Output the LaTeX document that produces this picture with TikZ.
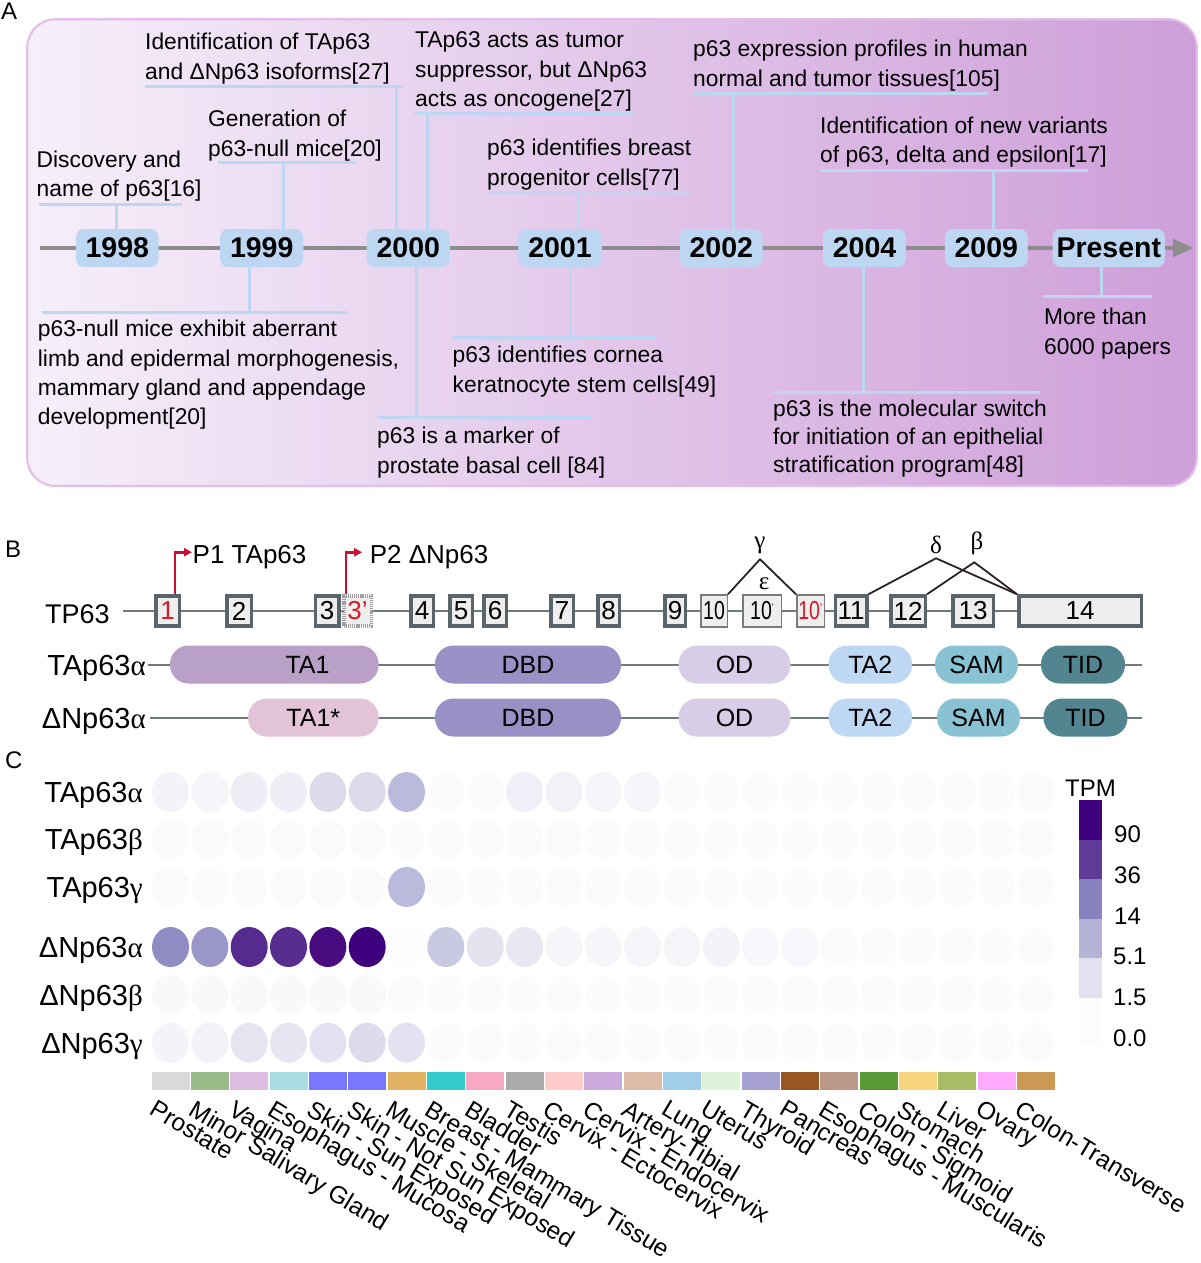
\documentclass[tikz,border=0pt]{standalone}
\usepackage{fontspec}
\setmainfont{Liberation Sans}
\newfontfamily\grk{Liberation Serif}
\usetikzlibrary{arrows.meta,shapes.geometric}
\definecolor{yearblue}{HTML}{BDD7F2}
\definecolor{bgL}{HTML}{F6EFFA}
\definecolor{bgR}{HTML}{CE9ED9}
\definecolor{bgborder}{HTML}{E2BEE8}
\definecolor{tlgray}{HTML}{8C8C8C}
\definecolor{exgray}{HTML}{5A656B}
\definecolor{exfill}{HTML}{EEEEEE}
\definecolor{thingray}{HTML}{7A7A7A}
\definecolor{bbgray}{HTML}{6F7A80}
\definecolor{promred}{HTML}{CC1130}
\definecolor{numred}{HTML}{D7182A}
\definecolor{splice}{HTML}{2B2222}
\definecolor{cTA}{HTML}{B9A0C7}
\definecolor{cTAs}{HTML}{E3C3D7}
\definecolor{cDBD}{HTML}{9891C6}
\definecolor{cOD}{HTML}{D7CDE6}
\definecolor{cTAtwo}{HTML}{BED8F3}
\definecolor{cSAM}{HTML}{89C3D3}
\definecolor{cTID}{HTML}{528590}
\newcommand{\dotrow}[3]{%
  \foreach \c [count=\i] in {#3} {%
    \definecolor{dc}{HTML}{\c}%
    \node[dotnode, fill=dc] (#1\i) at ({170.5+39.34*(\i-1)}, #2) {};
  }}
\begin{document}
\begin{tikzpicture}[x=1pt,y=-1pt,
  every node/.style={inner sep=0pt},
  txt/.style={anchor=north west, align=left, font=\fontsize{22.8}{29.3}\selectfont},
  yearbox/.style={fill=yearblue, rounded corners=8pt, minimum height=38pt, font=\fontsize{28.5}{30}\selectfont\bfseries},
  conn/.style={draw=yearblue, line width=3pt},
  tl/.style={draw=tlgray, line width=4.3pt, -{Triangle[length=21pt,width=17pt]}},
  exon/.style={draw=exgray, line width=3.5pt, fill=exfill, minimum height=30pt, font=\fontsize{26}{26}\selectfont},
  thinexon/.style={draw=thingray, line width=1.5pt, fill=exfill, minimum height=32pt, font=\fontsize{26}{26}\selectfont},
  dashexon/.style={draw=gray!75, line width=3.5pt, dash pattern=on 1.2pt off 0.9pt, fill=exfill, minimum height=30pt, font=\fontsize{26}{26}\selectfont},
  bb/.style={draw=bbgray, line width=2pt},
  prom/.style={draw=promred, line width=2.5pt, -{Triangle[length=8pt,width=8pt]}},
  spl/.style={draw=splice, line width=1.8pt},
  dom/.style={rounded corners=18.5pt, minimum height=38pt, font=\fontsize{25}{25}\selectfont},
  lab/.style={font=\fontsize{29}{29}\selectfont},
  grkl/.style={font=\fontsize{25}{25}\selectfont\grk},
  dotnode/.style={ellipse, minimum width=37pt, minimum height=40pt, draw=none},
  tissue/.style={anchor=north west, rotate=-31, font=\fontsize{24.5}{28}\selectfont},
  legl/.style={anchor=west, font=\fontsize{24}{24}\selectfont},
  panel/.style={anchor=base west, font=\fontsize{24}{24}\selectfont}
]
\useasboundingbox (0,0) rectangle (1200,1263);

% ================= Panel A =================
\node[panel] (pA) at (1,20) {A};
\shade[left color=bgL, right color=bgR, rounded corners=28pt] (27.3,19.3) rectangle (1196.7,486);
\draw[bgborder, line width=2.2pt, rounded corners=28pt] (27.3,19.3) rectangle (1196.7,486);

\coordinate (tlS) at (40,248);
\coordinate (tlE) at (1194,248);
\draw[tl] (tlS) -- (tlE);

\node[yearbox, minimum width=82.7pt] (y1998) at (117.3,248) {1998};
\node[yearbox, minimum width=83.3pt] (y1999) at (261.7,248) {1999};
\node[yearbox, minimum width=83.3pt] (y2000) at (408.3,248) {2000};
\node[yearbox, minimum width=83.5pt] (y2001) at (560,248) {2001};
\node[yearbox, minimum width=82.7pt] (y2002) at (721.3,248) {2002};
\node[yearbox, minimum width=83pt] (y2004) at (864.5,248) {2004};
\node[yearbox, minimum width=82.7pt] (y2009) at (986.3,248) {2009};
\node[yearbox, minimum width=112.3pt] (ypres) at (1108.8,248) {Present};

% connectors above
\coordinate (a1) at (116,204);    \draw[conn] (39,204) -- (182,204);       \draw[conn] (a1) -- (a1 |- y1998.north);
\coordinate (a2) at (283,162.3);  \draw[conn] (218,162.3) -- (357,162.3);  \draw[conn] (a2) -- (a2 |- y1999.north);
\coordinate (a3) at (396.7,86);   \draw[conn] (145,86) -- (403,86);        \draw[conn] (a3) -- (a3 |- y2000.north);
\coordinate (a4) at (427.3,113.3);\draw[conn] (415,113.3) -- (633,113.3);  \draw[conn] (a4) -- (a4 |- y2000.north);
\coordinate (a5) at (578.3,192.3);\draw[conn] (487,192.3) -- (690,192.3);  \draw[conn] (a5) -- (a5 |- y2001.north);
\coordinate (a6) at (733.3,93.3); \draw[conn] (693,93.3) -- (988,93.3);    \draw[conn] (a6) -- (a6 |- y2002.north);
\coordinate (a7) at (993.3,170);  \draw[conn] (820,170) -- (1088,170);     \draw[conn] (a7) -- (a7 |- y2009.north);
% connectors below
\coordinate (b1) at (249.3,312.7);\draw[conn] (41.7,312.7) -- (346.7,312.7); \draw[conn] (b1) -- (b1 |- y1999.south);
\coordinate (b2) at (416.7,417.3);\draw[conn] (376.7,417.3) -- (591,417.3);  \draw[conn] (b2) -- (b2 |- y2000.south);
\coordinate (b3) at (570.7,337.3);\draw[conn] (453.3,337.3) -- (656,337.3);  \draw[conn] (b3) -- (b3 |- y2001.south);
\coordinate (b4) at (863.3,392);  \draw[conn] (773.3,392) -- (1040,392);     \draw[conn] (b4) -- (b4 |- y2004.south);
\coordinate (b5) at (1101.7,296.7);\draw[conn] (1043.3,296.7) -- (1151.7,296.7); \draw[conn] (b5) -- (b5 |- ypres.south);

% texts
\node[txt] (t1) at (36.5,150.7) {Discovery and\\name of p63[16]};
\node[txt] (t2) at (208,110) {Generation of\\p63-null mice[20]};
\node[txt] (t3) at (145,33) {Identification of TAp63\\and ΔNp63 isoforms[27]};
\node[txt] (t4) at (415,31.7) {TAp63 acts as tumor\\suppressor, but ΔNp63\\acts as oncogene[27]};
\node[txt] (t5) at (487,139) {p63 identifies breast\\progenitor cells[77]};
\node[txt] (t6) at (693,40) {p63 expression profiles in human\\normal and tumor tissues[105]};
\node[txt] (t7) at (820,116.7) {Identification of new variants\\of p63, delta and epsilon[17]};
\node[txt] (t8) at (37.7,320) {p63-null mice exhibit aberrant\\limb and epidermal morphogenesis,\\mammary gland and appendage\\development[20]};
\node[txt] (t9) at (377,427) {p63 is a marker of\\prostate basal cell [84]};
\node[txt] (t10) at (452.5,346) {p63 identifies cornea\\keratnocyte stem cells[49]};
\node[txt, font=\fontsize{22.8}{27.8}\selectfont] (t11) at (773,400) {p63 is the molecular switch\\for initiation of an epithelial\\stratification program[48]};
\node[txt] (t12) at (1044,308) {More than\\6000 papers};

% ================= Panel B =================
\node[panel] (pB) at (5,557) {B};
\node[anchor=base west, font=\fontsize{27}{27}\selectfont] (tp63) at (45,623) {TP63};
\coordinate (gS) at (122.5,611);
\coordinate (gE) at (1017,611);
\draw[bb] (gS) -- (gE);

\node[exon, minimum width=23.5pt, text=numred] (e1) at (167.5,611) {1};
\node[exon, minimum width=24.5pt] (e2) at (239,611) {2};
\node[exon, minimum width=23.5pt] (e3) at (327,611) {3};
\node[dashexon, minimum width=27.5pt, text=numred] (e3p) at (357.5,611) {3’};
\node[exon, minimum width=22.5pt] (e4) at (422,611) {4};
\node[exon, minimum width=22.5pt] (e5) at (461,611) {5};
\node[exon, minimum width=22.5pt] (e6) at (495,611) {6};
\node[exon, minimum width=22.5pt] (e7) at (562,611) {7};
\node[exon, minimum width=21.5pt] (e8) at (608.5,611) {8};
\node[exon, minimum width=20.5pt] (e9) at (675,611) {9};
\node[thinexon, minimum width=26.5pt] (e10) at (714,611) {\scalebox{0.75}[1]{10}};
\node[thinexon, minimum width=38.5pt] (e10p) at (762,611) {\scalebox{0.75}[1]{10\raisebox{8pt}{\fontsize{11}{11}\selectfont ’}}};
\node[thinexon, minimum width=27.5pt, text=numred] (e10pp) at (810.5,611) {\scalebox{0.75}[1]{10\raisebox{8pt}{\fontsize{11}{11}\selectfont ”}}};
\node[exon, minimum width=31.5pt] (e11) at (851,611) {11};
\node[exon, minimum width=34.5pt] (e12) at (908,611) {12};
\node[exon, minimum width=40.5pt] (e13) at (973,611) {13};
\node[exon, minimum width=122.5pt] (e14) at (1080,611) {14};

% promoters
\draw[prom] ([xshift=7.5pt]e1.north) -- ++(0,-42) -- ++(17,0);
\node[anchor=base west, font=\fontsize{26}{26}\selectfont] (p1t) at (192.5,563) {P1 TAp63};
\draw[prom] ([xshift=-11.3pt]e3p.north) -- ++(0,-42) -- ++(16,0);
\node[anchor=base west, font=\fontsize{26}{26}\selectfont] (p2t) at (369.6,563) {P2 ΔNp63};

% splicing
\coordinate (gam) at (760,559.3);
\coordinate (del) at (936,558.3);
\coordinate (bet) at (974.3,562.3);
\draw[spl] (e10.north east) -- (gam) -- (e10pp.north west);
\draw[spl] (e11.north east) -- (del) -- (e14.north west);
\draw[spl] (e12.north east) -- (bet) -- (e14.north west);
\node[grkl] (gamt) at (760,545) {γ};
\node[grkl] (epst) at (764,584) {ε};
\node[grkl] (delt) at (936,545) {δ};
\node[grkl] (bett) at (977,543) {β};

% protein rows
\node[lab, anchor=base east] (rowTA) at (146,675.5) {TAp63{\grk α}};
\node[lab, anchor=base east] (rowDN) at (146,728.5) {ΔNp63{\grk α}};
\coordinate (r1S) at (148,664.5); \coordinate (r1E) at (1141.5,664.5);
\coordinate (r2S) at (150,717.5); \coordinate (r2E) at (1141.5,717.5);
\draw[bb] (r1S) -- (r1E);
\draw[bb] (r2S) -- (r2E);

\node[dom, fill=cTA, minimum width=208.6pt] (ta1) at (274.3,664.5) {};
\node[font=\fontsize{25}{25}\selectfont] (ta1t) at (307.5,664.5) {TA1};
\node[dom, fill=cDBD, minimum width=186pt] (dbd1) at (528,664.5) {DBD};
\node[dom, fill=cOD, minimum width=112pt] (od1) at (734.5,664.5) {OD};
\node[dom, fill=cTAtwo, minimum width=83.5pt] (tat1) at (870.3,664.5) {TA2};
\node[dom, fill=cSAM, minimum width=83pt] (sam1) at (976.5,664.5) {SAM};
\node[dom, fill=cTID, minimum width=84pt] (tid1) at (1083,664.5) {TID};

\node[dom, fill=cTAs, minimum width=130.6pt] (ta1s) at (313.3,717.5) {TA1*};
\node[dom, fill=cDBD, minimum width=186pt] (dbd2) at (528,717.5) {DBD};
\node[dom, fill=cOD, minimum width=112pt] (od2) at (734.5,717.5) {OD};
\node[dom, fill=cTAtwo, minimum width=83.5pt] (tat2) at (870.3,717.5) {TA2};
\node[dom, fill=cSAM, minimum width=83pt] (sam2) at (978.5,717.5) {SAM};
\node[dom, fill=cTID, minimum width=84pt] (tid2) at (1085.5,717.5) {TID};

% ================= Panel C =================
\node[panel] (pC) at (5,768) {C};
\node[lab, anchor=base east] (lA) at (143,802.4) {TAp63{\grk α}};
\node[lab, anchor=base east] (lB) at (143,849.9) {TAp63{\grk β}};
\node[lab, anchor=base east] (lG) at (143,897.4) {TAp63{\grk γ}};
\node[lab, anchor=base east] (lD) at (143,957.4) {ΔNp63{\grk α}};
\node[lab, anchor=base east] (lE) at (143,1005.4) {ΔNp63{\grk β}};
\node[lab, anchor=base east] (lF) at (143,1053.1) {ΔNp63{\grk γ}};

\dotrow{dA}{792}{F4F3F9,F6F5FA,EFEEF6,EFEEF6,DCDBEB,DCDBEB,BABBDC,FBFBFD,FBFBFD,F0EFF7,F2F1F8,F6F5FA,F6F5FA,FBFBFD,FBFBFD,FBFBFD,FBFBFD,FBFBFD,FBFBFD,FBFBFD,FBFBFD,FBFBFD,FBFBFD}
\dotrow{dB}{839.5}{FAFAFC,FAFAFC,FAFAFC,FAFAFC,FAFAFC,FAFAFC,FBFBFD,FBFBFD,FBFBFD,FBFBFD,FBFBFD,FBFBFD,FBFBFD,FBFBFD,FBFBFD,FBFBFD,FBFBFD,FBFBFD,FBFBFD,FBFBFD,FBFBFD,FBFBFD,FBFBFD}
\dotrow{dG}{887}{FAFAFC,FAFAFC,FAFAFC,FAFAFC,FAFAFC,FAFAFC,BABBDC,FBFBFD,FBFBFD,FBFBFD,FBFBFD,FBFBFD,FBFBFD,FBFBFD,FBFBFD,FBFBFD,FBFBFD,FBFBFD,FBFBFD,FBFBFD,FBFBFD,FBFBFD,FBFBFD}
\dotrow{dD}{947}{8F8CC3,9A96C8,562A8F,582D90,480C80,3F007D,FCFCFE,C9C9E2,E4E3F0,E8E7F2,F6F5FA,F6F5FA,F5F4F9,F5F4F9,F4F3F9,F8F7FB,F8F7FB,FBFBFD,FBFBFD,FBFBFD,FBFBFD,FBFBFD,FBFBFD}
\dotrow{dE}{995}{F9F9FC,F9F9FC,F9F9FC,F9F9FC,F9F9FC,F9F9FC,FBFBFD,FBFBFD,FBFBFD,FBFBFD,FBFBFD,FBFBFD,FBFBFD,FBFBFD,FBFBFD,FBFBFD,FBFBFD,FBFBFD,FBFBFD,FBFBFD,FBFBFD,FBFBFD,FBFBFD}
\dotrow{dF}{1042.7}{F4F3F9,F3F2F8,E5E4F1,E6E5F1,E3E2F0,DCDBEB,E3E2F0,FBFBFD,FBFBFD,FBFBFD,FBFBFD,FBFBFD,FBFBFD,FBFBFD,FBFBFD,FBFBFD,FBFBFD,FBFBFD,FBFBFD,FBFBFD,FBFBFD,FBFBFD,FBFBFD}

% tissue colour bar and labels
\foreach \nm/\cl [count=\i] in {Prostate/D9D9D9, Minor Salivary Gland/99BB88, Vagina/E0BDE3, Esophagus - Mucosa/AADDE3, Skin - Sun Exposed/7777FF, Skin - Not Sun Exposed/7777FF, Muscle - Skeletal/E1B262, Breast - Mammary Tissue/33CCCC, Bladder/F7A9C3, Testis/AAAAAA, Cervix - Ectocervix/FFCCCC, Cervix - Endocervix/CCAADD, Artery-Tibial/DDBBA8, Lung/A0CDEA, Uterus/DDF4DA, Thyroid/A8A2D3, Pancreas/995522, Esophagus - Muscularis/BB9988, Colon - Sigmoid/5A9A36, Stomach/F8D47F, Liver/AABB66, Ovary/FFAAFF, Colon-Transverse/CC9955} {
  \definecolor{tc}{HTML}{\cl}
  \fill[tc] ({170.5+39.34*(\i-1)-19},1072) rectangle ({170.5+39.34*(\i-1)+19},1090);
  \node[tissue] (tis\i) at ({170.5+39.34*(\i-1)-13},1099) {\nm};
}

% legend
\node[anchor=base west, font=\fontsize{24}{24}\selectfont] (tpm) at (1065,796) {TPM};
\foreach \cl/\ya/\yb in {3F007D/800/839.5, 603C9A/839.5/879, 8883BE/879/918.5, B4B3D6/918.5/958, E2E1EF/958/997.5, FCFBFD/997.5/1043} {
  \definecolor{lc}{HTML}{\cl}
  \fill[lc] (1079,\ya) rectangle (1102,\yb);
}
\node[legl] (l90) at (1114,834) {90};
\node[legl] (l36) at (1114,875) {36};
\node[legl] (l14) at (1114,916) {14};
\node[legl] (l51) at (1113,956) {5.1};
\node[legl] (l15) at (1113,997) {1.5};
\node[legl] (l00) at (1113,1038) {0.0};
\end{tikzpicture}
\end{document}
